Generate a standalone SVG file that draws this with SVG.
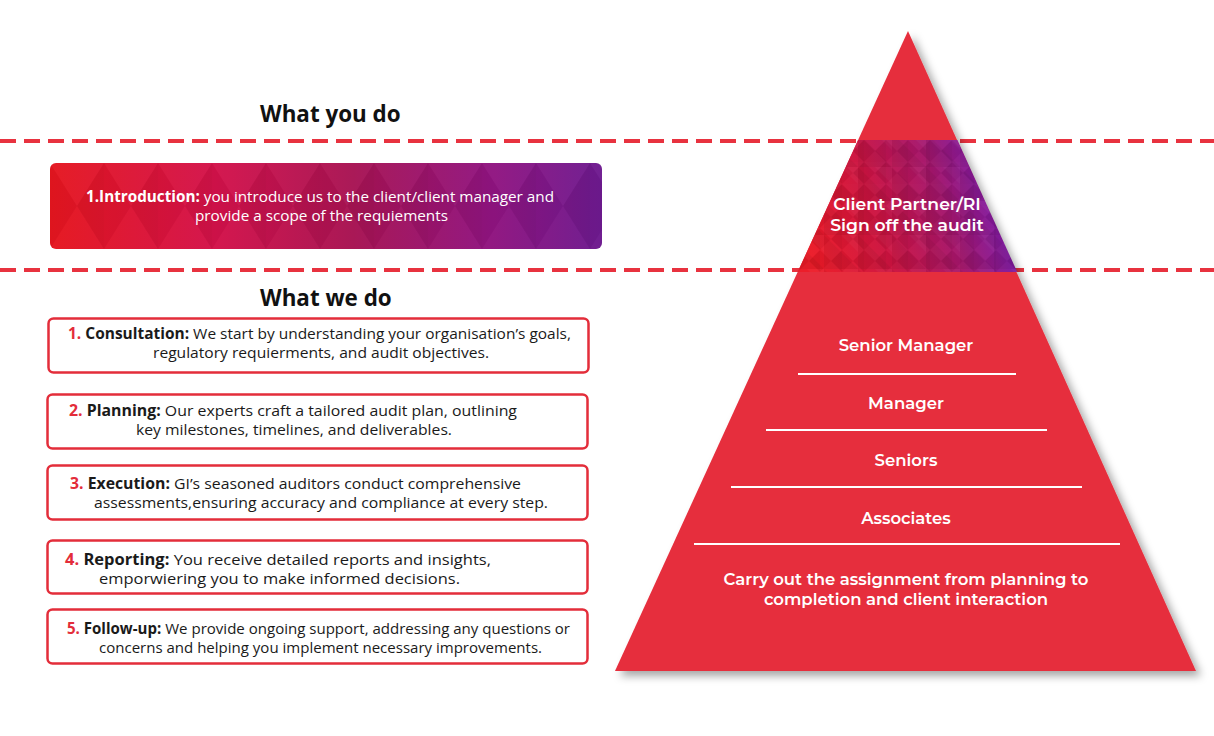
<svg xmlns="http://www.w3.org/2000/svg" width="1214" height="736" viewBox="0 0 1214 736">
  <defs>
    <style>
      .sep { stroke: #e8323f; stroke-width: 4; stroke-dasharray: 16 8; fill: none; }
      .head { font-family: "Open Sans", "Liberation Sans", sans-serif; font-weight: 700; font-size: 22.4px; fill: #111; }
      .box { fill: #fff; stroke: #e32d3a; stroke-width: 2.5; }
      .bt { font-family: "Open Sans", "Liberation Sans", sans-serif; font-size: 15.3px; fill: #1a1a1a; }
      .num { fill: #e32d3a; font-weight: 700; }
      .b { font-weight: 700; }
      .it { font-family: "Open Sans", "Liberation Sans", sans-serif; font-size: 15.2px; fill: #fff; }
      .pt { font-family: "Montserrat", "Inter", "Noto Sans", sans-serif; font-weight: 600; font-size: 16.5px; fill: #fff; text-anchor: middle; }
      .pt2 { font-family: "Montserrat", "Inter", "Noto Sans", sans-serif; font-weight: 600; font-size: 17.2px; fill: #fff; text-anchor: middle; }
      .pl { stroke: #fff; stroke-width: 2; }
    </style>
    <linearGradient id="introGrad" x1="0" y1="0" x2="1" y2="0">
      <stop offset="0" stop-color="#e5161f"/>
      <stop offset="0.3" stop-color="#d3124a"/>
      <stop offset="0.55" stop-color="#a71353"/>
      <stop offset="0.8" stop-color="#901480"/>
      <stop offset="1" stop-color="#6d1a8f"/>
    </linearGradient>
    <linearGradient id="topGrad" x1="0" y1="0.6" x2="1" y2="0.4">
      <stop offset="0" stop-color="#ec1a26"/>
      <stop offset="0.35" stop-color="#cc1340"/>
      <stop offset="0.65" stop-color="#a5156a"/>
      <stop offset="1" stop-color="#6c1cbc"/>
    </linearGradient>
    <pattern id="mosaicBig" x="50" y="163" width="54" height="86" patternUnits="userSpaceOnUse">
      <polygon points="0,0 54,0 27,43" fill="#fff" fill-opacity="0.03"/>
      <polygon points="54,0 54,86 27,43" fill="#000" fill-opacity="0.05"/>
      <polygon points="0,86 54,86 27,43" fill="#fff" fill-opacity="0.02"/>
      <polygon points="0,0 0,86 27,43" fill="#000" fill-opacity="0.03"/>
    </pattern>
    <pattern id="mosaicSmall" x="798" y="140" width="22" height="22" patternUnits="userSpaceOnUse">
      <polygon points="0,0 22,0 11,11" fill="#fff" fill-opacity="0.03"/>
      <polygon points="22,0 22,22 11,11" fill="#000" fill-opacity="0.07"/>
      <polygon points="0,22 22,22 11,11" fill="#fff" fill-opacity="0.02"/>
      <polygon points="0,0 0,22 11,11" fill="#000" fill-opacity="0.04"/>
    </pattern>
    <pattern id="mosaicSmall2" x="790" y="133" width="34" height="34" patternUnits="userSpaceOnUse">
      <polygon points="0,0 34,34 0,34" fill="#000" fill-opacity="0.05"/>
      <polygon points="17,0 34,17 34,0" fill="#fff" fill-opacity="0.03"/>
    </pattern>
    <filter id="shadow" x="-10%" y="-10%" width="125%" height="125%">
      <feDropShadow dx="5" dy="5" stdDeviation="4" flood-color="#000" flood-opacity="0.35"/>
    </filter>
  </defs>

  <rect width="1214" height="736" fill="#fff"/>

  <g id="separators">
    <line class="sep" x1="0" y1="141" x2="1214" y2="141"/>
    <line class="sep" x1="0" y1="270" x2="1214" y2="270"/>
  </g>

  <g id="heading-you">
    <text class="head" x="260" y="122">What you do</text>
  </g>

  <g id="intro">
    <rect x="50" y="163" width="552" height="86" rx="6" fill="url(#introGrad)"/>
    <rect x="50" y="163" width="552" height="86" rx="6" fill="url(#mosaicBig)"/>
    <text class="it" x="86" y="202" textLength="468" lengthAdjust="spacingAndGlyphs"><tspan class="b">1.Introduction:</tspan> you introduce us to the client/client manager and</text>
    <text class="it" x="195" y="221" textLength="253" lengthAdjust="spacingAndGlyphs">provide a scope of the requiements</text>
  </g>

  <g id="heading-we">
    <text class="head" x="260" y="306">What we do</text>
  </g>

  <g id="step1">
    <rect class="box" x="48.5" y="318.5" width="540" height="54" rx="5"/>
    <text class="bt" x="68" y="339" textLength="503" lengthAdjust="spacingAndGlyphs"><tspan class="num">1. </tspan><tspan class="b">Consultation:</tspan> We start by understanding your organisation’s goals,</text>
    <text class="bt" x="153" y="358" textLength="336" lengthAdjust="spacingAndGlyphs">regulatory requierments, and audit objectives.</text>
  </g>

  <g id="step2">
    <rect class="box" x="47.5" y="394.5" width="540" height="54" rx="5"/>
    <text class="bt" x="69" y="416" textLength="448" lengthAdjust="spacingAndGlyphs"><tspan class="num">2. </tspan><tspan class="b">Planning:</tspan> Our experts craft a tailored audit plan, outlining</text>
    <text class="bt" x="136" y="435" textLength="316" lengthAdjust="spacingAndGlyphs">key milestones, timelines, and deliverables.</text>
  </g>

  <g id="step3">
    <rect class="box" x="47.5" y="465.5" width="540" height="54" rx="5"/>
    <text class="bt" x="70" y="489" textLength="451" lengthAdjust="spacingAndGlyphs"><tspan class="num">3. </tspan><tspan class="b">Execution:</tspan> GI’s seasoned auditors conduct comprehensive</text>
    <text class="bt" x="94" y="508" textLength="454" lengthAdjust="spacingAndGlyphs">assessments,ensuring accuracy and compliance at every step.</text>
  </g>

  <g id="step4">
    <rect class="box" x="47.5" y="540.5" width="540" height="53" rx="5"/>
    <text class="bt" x="65" y="565" textLength="426" lengthAdjust="spacingAndGlyphs"><tspan class="num">4. </tspan><tspan class="b">Reporting:</tspan> You receive detailed reports and insights,</text>
    <text class="bt" x="99" y="584" textLength="361" lengthAdjust="spacingAndGlyphs">emporwiering you to make informed decisions.</text>
  </g>

  <g id="step5">
    <rect class="box" x="47.5" y="609.5" width="540" height="54" rx="5"/>
    <text class="bt" x="67" y="634" textLength="503" lengthAdjust="spacingAndGlyphs"><tspan class="num">5. </tspan><tspan class="b">Follow-up:</tspan> We provide ongoing support, addressing any questions or</text>
    <text class="bt" x="99" y="653" textLength="443" lengthAdjust="spacingAndGlyphs">concerns and helping you implement necessary improvements.</text>
  </g>

  <g id="pyramid">
    <polygon points="908,31 1196,671 615,671" fill="#e62e3d" filter="url(#shadow)"/>
    <polygon points="858.1,140 957.4,140 1017.2,272 797.7,272" fill="url(#topGrad)"/>
    <polygon points="858.1,140 957.4,140 1017.2,272 797.7,272" fill="url(#mosaicSmall)"/>
    <polygon points="858.1,140 957.4,140 1017.2,272 797.7,272" fill="url(#mosaicSmall2)"/>
  </g>

  <g id="level-partner">
    <text class="pt2" x="907" y="210">Client Partner/RI</text>
    <text class="pt2" x="907" y="231">Sign off the audit</text>
  </g>
  <g id="level-senior-manager">
    <text class="pt" x="906" y="351">Senior Manager</text>
    <line class="pl" x1="798" y1="374" x2="1016" y2="374"/>
  </g>
  <g id="level-manager">
    <text class="pt" x="906" y="409">Manager</text>
    <line class="pl" x1="766" y1="430" x2="1047" y2="430"/>
  </g>
  <g id="level-seniors">
    <text class="pt" x="906" y="466">Seniors</text>
    <line class="pl" x1="731" y1="487" x2="1082" y2="487"/>
  </g>
  <g id="level-associates">
    <text class="pt" x="906" y="524">Associates</text>
    <line class="pl" x1="694" y1="544" x2="1120" y2="544"/>
  </g>
  <g id="level-base">
    <text class="pt" x="906" y="585">Carry out the assignment from planning to</text>
    <text class="pt" x="906" y="605">completion and client interaction</text>
  </g>
</svg>
